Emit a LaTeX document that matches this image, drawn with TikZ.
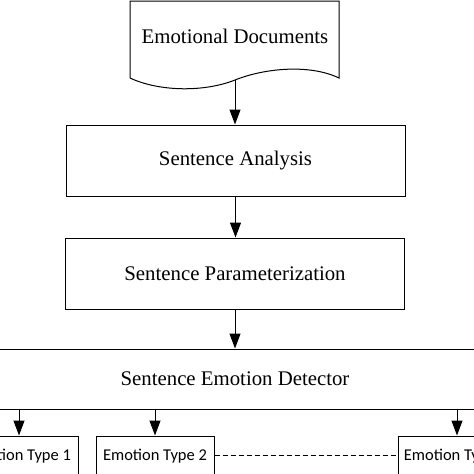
\documentclass[tikz,border=0pt]{standalone}
\usepackage{fontspec}
\setmainfont{Liberation Serif}
\newfontfamily\calfont{Carlito}
\usetikzlibrary{arrows.meta,calc}
\tikzset{
    block/.style = {draw, rectangle, inner sep=0pt,
        minimum height=71pt,
        minimum width=339pt,
        font=\fontsize{20.8}{24}\selectfont},
    typebox/.style = {draw, rectangle, inner sep=0pt,
        minimum height=40pt,
        minimum width=118pt,
        font=\calfont\fontsize{16.5}{19}\selectfont},
    arrow/.style = {draw, -{Triangle[length=15pt,width=11pt]}},
    docline/.style = {draw, line width=1pt}
}
\begin{document}
\begin{tikzpicture}[x=1pt,y=-1pt,line width=1pt]
    \useasboundingbox (0,0) rectangle (474,474);
    % document shape
    \node[font=\fontsize{20.8}{24}\selectfont] (docs) at (235,36) {Emotional Documents};
    \draw[docline] (130,78) -- (130,1) -- (339,1) -- (339,78)
        .. controls (310,64) and (265,68) .. (235,80)
        .. controls (205,92) and (160,92) .. (130,78);
    \coordinate (docbot) at (235,80);
    % processing blocks
    \node[block] (ana) at (235.5,160.5) {Sentence Analysis};
    \node[block] (par) at (235,273.5) {Sentence Parameterization};
    \node[block, minimum height=60pt, minimum width=520pt] (det) at (235,379) {Sentence Emotion Detector};
    % emotion types
    \node[typebox] (t1) at (19,456) {Emotion Type 1};
    \node[typebox] (t2) at (155,456) {Emotion Type 2};
    \node[typebox] (tn) at (457,456) {Emotion Type N};
    % connectors
    \draw[arrow] (docbot) -- (docbot |- ana.north);
    \draw[arrow] (ana.south) -- (ana.south |- par.north);
    \draw[arrow] (par.south) -- (par.south |- det.north);
    \foreach \t in {t1,t2,tn}
        \draw[arrow] (det.south -| \t.north) -- (\t.north);
    \draw[dashed, dash pattern=on 5pt off 3pt] ($(t2.east)+(0,-1)$) -- ($(tn.west)+(0,-1)$);
\end{tikzpicture}
\end{document}
